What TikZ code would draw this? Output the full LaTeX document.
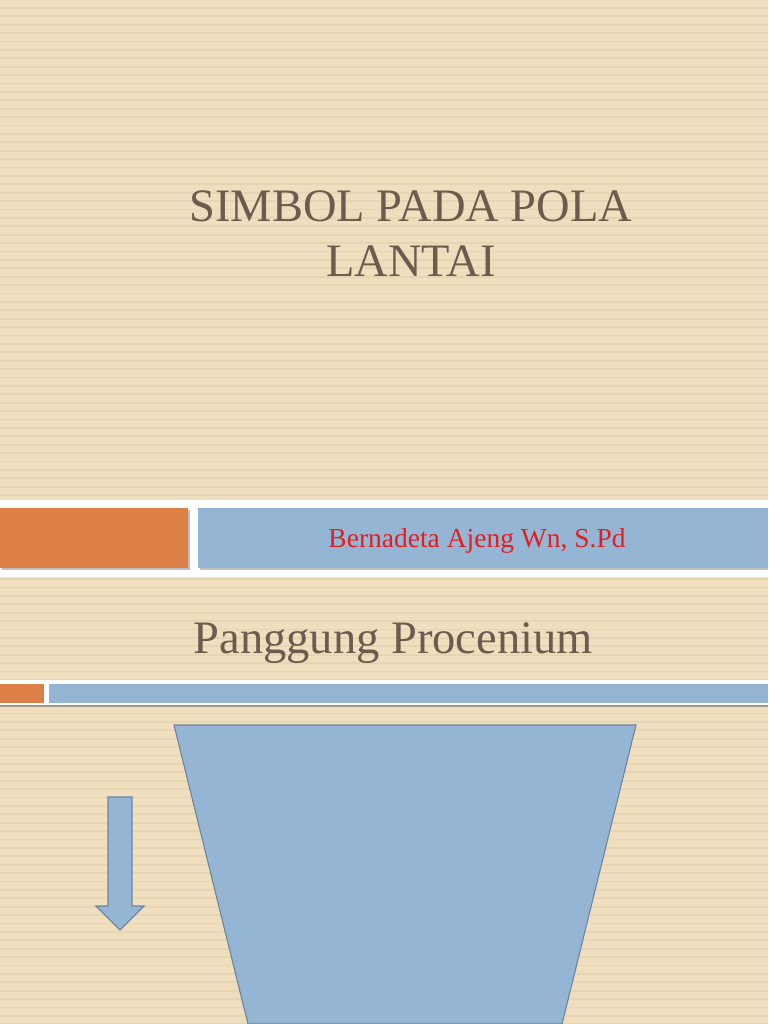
\documentclass[tikz,border=0pt]{standalone}
\usepackage{fontspec}
\setmainfont{Liberation Serif}
\definecolor{bgbeige}{HTML}{EFDFBF}
\definecolor{stripe}{HTML}{E7D4B1}
\definecolor{orangebar}{HTML}{DD8047}
\definecolor{bluebar}{HTML}{94B6D4}
\definecolor{blueline}{HTML}{6F849E}
\definecolor{titlecol}{HTML}{6E5B50}
\definecolor{namecol}{HTML}{E02020}
\tikzset{
  shadowbox/.style={fill=black,opacity=0.25},
  shapeblue/.style={fill=bluebar,draw=blueline,line width=1.1pt,line join=miter},
}
\begin{document}
\begin{tikzpicture}[x=1pt,y=-1pt]
\useasboundingbox (0,0) rectangle (768,1024);
% background
\fill[bgbeige] (0,0) rectangle (768,1024);
\foreach \k in {0,...,122} {
  \fill[stripe] (0,{7+\k*8.4}) rectangle (768,{8.8+\k*8.4});
}
% title
\node[text=titlecol,font=\fontsize{46.5}{55}\selectfont,align=center] (title) at (411,234) {SIMBOL PADA POLA\\LANTAI};
% upper white band
\fill[white] (0,500) rectangle (768,577);
\fill[shadowbox] (2,510) rectangle (190,570);
\fill[orangebar] (0,508) rectangle (188,568);
\fill[shadowbox] (200,510) rectangle (768,570);
\fill[bluebar] (198,508) rectangle (768,568);
\node[text=namecol,font=\fontsize{27.5}{30}\selectfont,anchor=base] (author) at (477,547) {Bernadeta Ajeng Wn, S.Pd};
% subtitle
\node[text=titlecol,font=\fontsize{46.5}{52}\selectfont,anchor=base west] (sub) at (190,653) {Panggung Procenium};
% lower white band
\fill[white] (0,680) rectangle (768,705);
\fill[black,opacity=0.3] (0,705) rectangle (768,707);
\fill[orangebar] (0,684) rectangle (44,703);
\fill[bluebar] (49,684) rectangle (768,703);
% stage trapezoid
\draw[shapeblue] (174,725) -- (636,725) -- (562,1024) -- (248,1024) -- cycle;
% arrow
\draw[shapeblue] (108,797) -- (132,797) -- (132,906) -- (144,906) -- (120,930) -- (96,906) -- (108,906) -- cycle;
\end{tikzpicture}
\end{document}
